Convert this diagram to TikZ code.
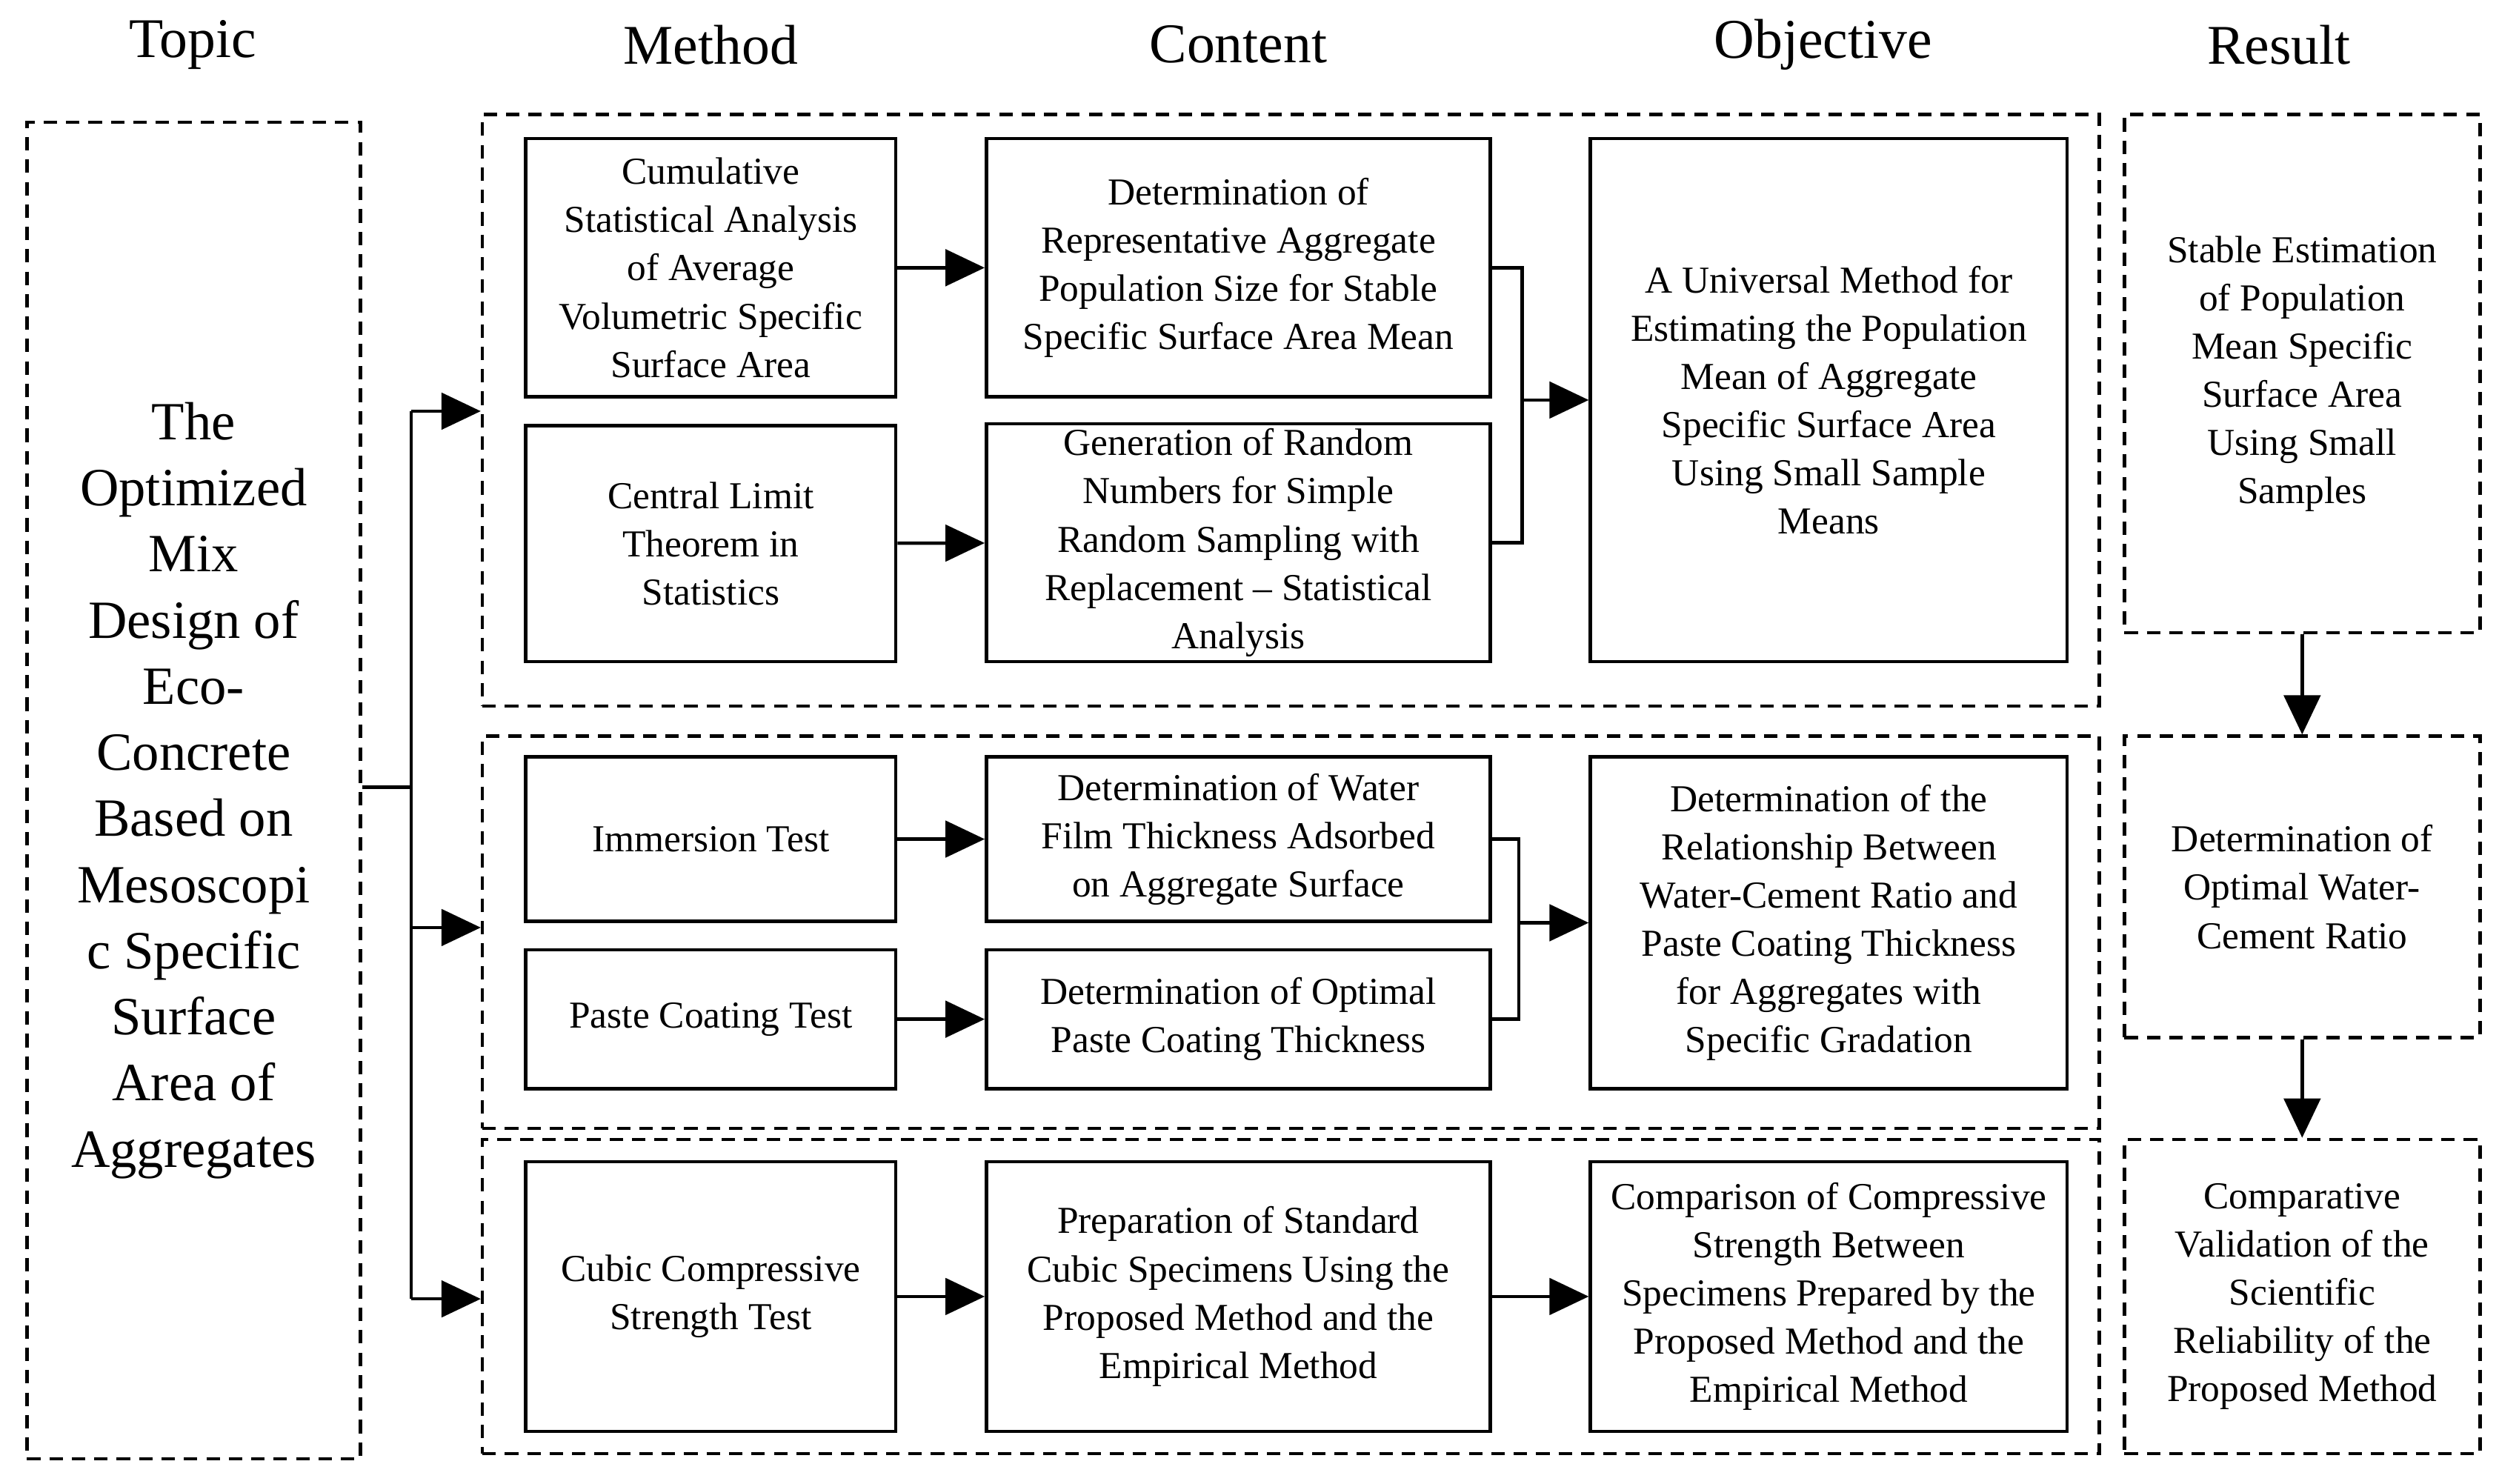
\documentclass[tikz,border=0pt]{standalone}
\usepackage{fontspec}
\setmainfont{Liberation Serif}
\usetikzlibrary{arrows.meta}
\begin{document}
\begin{tikzpicture}[x=0.01cm,y=-0.01cm,line width=0.6pt]
\tikzstyle{solidbox} = [rectangle, draw=black, align=center, inner sep=0pt,
  font=\fontsize{6.8}{8.6}\selectfont]
\tikzstyle{dashbox} = [rectangle, draw=black, dash pattern=on 2.4pt off 1.6pt, align=center,
  inner sep=0pt, font=\fontsize{6.8}{8.6}\selectfont]
\tikzstyle{header} = [font=\fontsize{10}{12}\selectfont]
\tikzstyle{arr} = [-{Triangle[length=7pt,width=6.5pt]}]
\useasboundingbox (0,0) rectangle (1568,931);
% headers
\node(hTopic) [header] at (121,28) {Topic};
\node(hMethod) [header] at (446,28) {Method};
\node(hContent) [header] at (777,28) {Content};
\node(hObjective) [header] at (1144,28) {Objective};
\node(hResult) [header] at (1430,28) {Result};
% topic
\node(topic) [dashbox, minimum width=2.09cm, minimum height=8.38cm, font=\fontsize{9.6}{11.8}\selectfont]
  at (121.5,496) {The\\Optimized\\Mix\\Design of\\Eco-\\Concrete\\Based on\\Mesoscopi\\c Specific\\Surface\\Area of\\Aggregates};
% groups
\node(group1) [dashbox, minimum width=10.14cm, minimum height=3.71cm] at (810,257.5) {};
\node(group2) [dashbox, minimum width=10.14cm, minimum height=2.46cm] at (810,585) {};
\node(group3) [dashbox, minimum width=10.14cm, minimum height=1.97cm] at (810,813.5) {};
% method
\node(cumStat) [solidbox, minimum width=2.32cm, minimum height=1.62cm] at (446,168) {Cumulative\\Statistical Analysis\\of Average\\Volumetric Specific\\Surface Area};
\node(centLimit) [solidbox, minimum width=2.32cm, minimum height=1.48cm] at (446,341) {Central Limit\\Theorem in\\Statistics};
\node(immersion) [solidbox, minimum width=2.32cm, minimum height=1.03cm] at (446,526.5) {Immersion Test};
\node(pasteTest) [solidbox, minimum width=2.32cm, minimum height=0.87cm] at (446,639.5) {Paste Coating Test};
\node(cubicTest) [solidbox, minimum width=2.32cm, minimum height=1.69cm] at (446,813.5) {Cubic Compressive\\Strength Test};
% content
\node(reprSize) [solidbox, minimum width=3.16cm, minimum height=1.62cm] at (777,168) {Determination of\\Representative Aggregate\\Population Size for Stable\\Specific Surface Area Mean};
\node(randNum) [solidbox, minimum width=3.16cm, minimum height=1.49cm] at (777,340.5) {Generation of Random\\Numbers for Simple\\Random Sampling with\\Replacement -- Statistical\\Analysis};
\node(waterFilm) [solidbox, minimum width=3.16cm, minimum height=1.03cm] at (777,526.5) {Determination of Water\\Film Thickness Adsorbed\\on Aggregate Surface};
\node(optPaste) [solidbox, minimum width=3.16cm, minimum height=0.87cm] at (777,639.5) {Determination of Optimal\\Paste Coating Thickness};
\node(prepSpec) [solidbox, minimum width=3.16cm, minimum height=1.69cm] at (777,813.5) {Preparation of Standard\\Cubic Specimens Using the\\Proposed Method and the\\Empirical Method};
% objective
\node(universal) [solidbox, minimum width=2.99cm, minimum height=3.28cm] at (1147.5,251) {A Universal Method for\\Estimating the Population\\Mean of Aggregate\\Specific Surface Area\\Using Small Sample\\Means};
\node(relation) [solidbox, minimum width=2.99cm, minimum height=2.08cm] at (1147.5,579) {Determination of the\\Relationship Between\\Water-Cement Ratio and\\Paste Coating Thickness\\for Aggregates with\\Specific Gradation};
\node(compare) [solidbox, minimum width=2.99cm, minimum height=1.69cm] at (1147.5,813.5) {Comparison of Compressive\\Strength Between\\Specimens Prepared by the\\Proposed Method and the\\Empirical Method};
% result
\node(stableEst) [dashbox, minimum width=2.23cm, minimum height=3.25cm] at (1444.5,234.5) {Stable Estimation\\of Population\\Mean Specific\\Surface Area\\Using Small\\Samples};
\node(optRatio) [dashbox, minimum width=2.23cm, minimum height=1.89cm] at (1444.5,556.5) {Determination of\\Optimal Water-\\Cement Ratio};
\node(validation) [dashbox, minimum width=2.23cm, minimum height=1.97cm] at (1444.5,813.5) {Comparative\\Validation of the\\Scientific\\Reliability of the\\Proposed Method};
% topic tree
\coordinate(split) at (258,494);
\coordinate(top1) at (258,258);
\coordinate(top2) at (258,582);
\coordinate(top3) at (258,815);
\draw (topic.east |- split) -- (split);
\draw (top1) -- (top3);
\draw[arr] (top1) -- (top1 -| group1.west);
\draw[arr] (top2) -- (top2 -| group2.west);
\draw[arr] (top3) -- (top3 -| group3.west);
% method to content
\draw[arr] (cumStat) -- (reprSize);
\draw[arr] (centLimit) -- (randNum);
\draw[arr] (immersion) -- (waterFilm);
\draw[arr] (pasteTest) -- (optPaste);
\draw[arr] (cubicTest) -- (prepSpec);
% content to objective
\coordinate(join1) at (955,251);
\draw (reprSize.east) -| (join1) |- (randNum.east);
\draw[arr] (join1) -- (universal.west |- join1);
\coordinate(join2) at (953,579);
\draw (waterFilm.east) -| (join2) |- (optPaste.east);
\draw[arr] (join2) -- (relation.west |- join2);
\draw[arr] (prepSpec) -- (compare);
% results
\draw[arr] (stableEst) -- (optRatio);
\draw[arr] (optRatio) -- (validation);
\end{tikzpicture}
\end{document}
